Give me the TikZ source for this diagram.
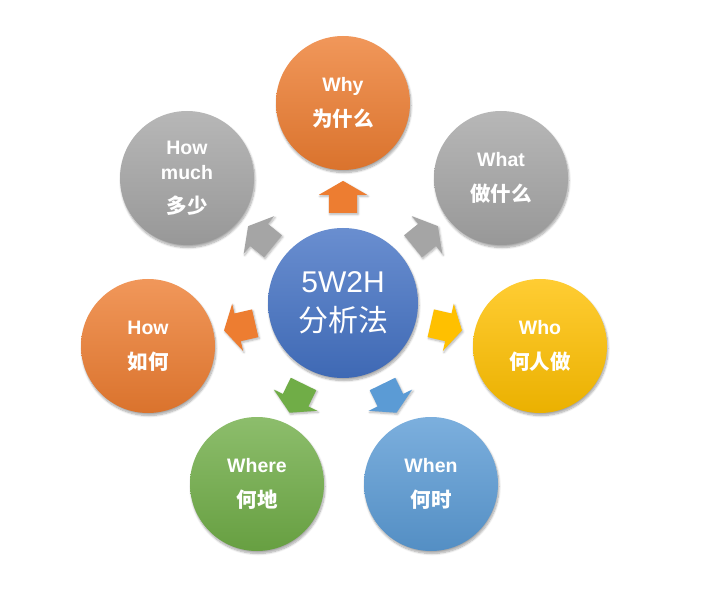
\documentclass[tikz,border=0pt]{standalone}
\usepackage{fontspec}
\setmainfont{Liberation Sans}
\newfontfamily\cjk{Noto Sans CJK SC}
\usetikzlibrary{shapes.arrows,shadows.blur,calc}
\definecolor{worange}{HTML}{ED7D31}
\definecolor{wgrey}{HTML}{A5A5A5}
\definecolor{wyellow}{HTML}{FFC000}
\definecolor{wblue}{HTML}{5B9BD5}
\definecolor{wgreen}{HTML}{70AD47}
\definecolor{wcore}{HTML}{4472C4}
\newcommand\zh[1]{{\cjk\fontsize{20.5}{25}\selectfont #1}}

\begin{document}
\begin{tikzpicture}[x=1pt,y=1pt,
  ball/.style={circle,minimum size=134pt,inner sep=0pt,text=white,align=center,
    font=\fontsize{19.5}{25}\selectfont\bfseries,
    top color=#1!80!white,bottom color=#1!92!black,
    blur shadow={shadow blur steps=8,shadow xshift=1pt,shadow yshift=-2.5pt,shadow opacity=35}},
  core node/.style={ball=wcore,minimum size=150pt,font=\fontsize{30}{39}\selectfont},
  push/.style={single arrow,draw=none,inner xsep=0pt,inner ysep=14pt,minimum height=32pt,
    single arrow head extend=10pt,single arrow tip angle=120,fill=#1,
    blur shadow={shadow blur steps=5,shadow xshift=1pt,shadow yshift=-1.5pt,shadow opacity=30}}]
  \useasboundingbox (0,0) rectangle (720,595);

  \node[core node] (core) at (343,292) {5W2H\\\cjk 分析法};

  \node[ball=worange] (why) at (343,492) {Why\\[10pt]\zh{为什么}};
  \node[ball=wgrey] (what) at (501,417) {What\\[10pt]\zh{做什么}};
  \node[ball=wyellow] (who) at (540,249) {Who\\[10pt]\zh{何人做}};
  \node[ball=wblue] (when) at (431,111) {When\\[10pt]\zh{何时}};
  \node[ball=wgreen] (where) at (257,111) {Where\\[10pt]\zh{何地}};
  \node[ball=worange] (how) at (148,249) {How\\[10pt]\zh{如何}};
  \node[ball=wgrey] (howmuch) at (187,417) {How\\much\\[9pt]\zh{多少}};

  % arrows from the core towards each question
  \foreach \name/\ang/\col in {a1/90/worange, a2/39/wgrey, a3/-13/wyellow, a4/-64/wblue,
      a5/-116/wgreen, a6/193/worange, a7/141/wgrey}
    \node[push=\col,rotate=\ang] (\name) at ($(core)+(\ang:102pt)$) {};
\end{tikzpicture}
\end{document}
